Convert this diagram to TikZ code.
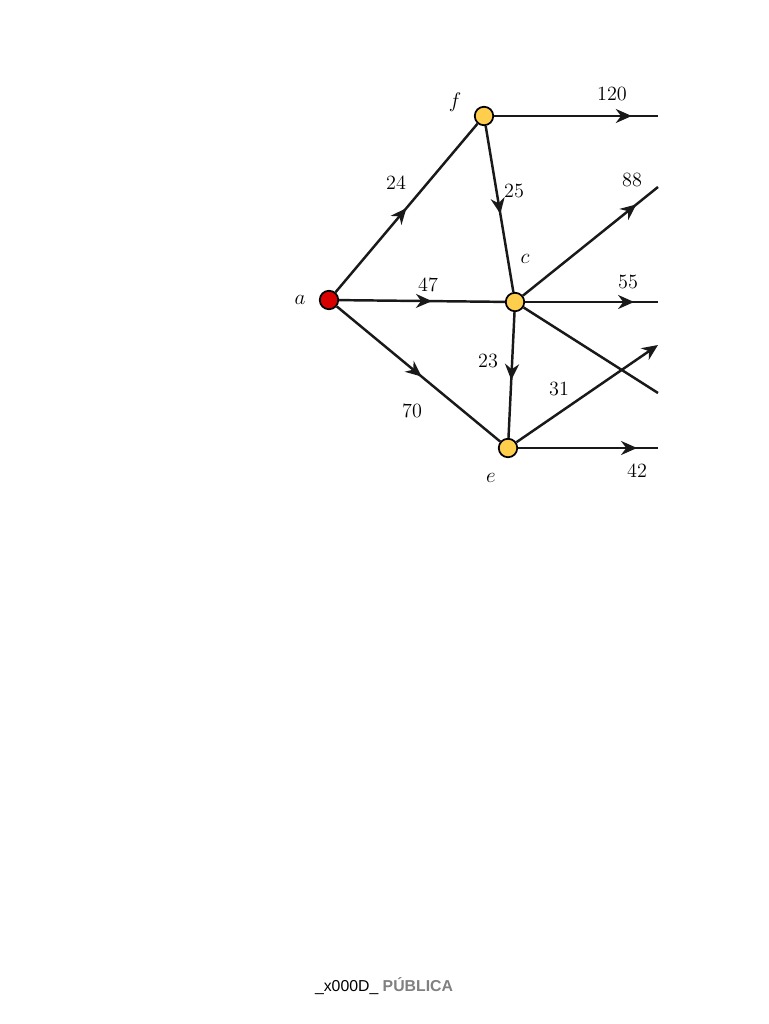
\documentclass[tikz,border=0pt]{standalone}
\usepackage{fontspec}
\setsansfont{Liberation Sans}
\usetikzlibrary{arrows.meta,decorations.markings}

\begin{document}
\begin{tikzpicture}[
  x = 0.02cm, y = -0.02cm,
  font = \fontsize{11.5}{13}\selectfont,
  junction/.style={draw, fill=orange!55!yellow!70, circle, line width=1pt, minimum size=0.37cm, inner sep=0pt},
  source/.style={draw, fill=red!85!black, circle, line width=1pt, minimum size=0.37cm, inner sep=0pt},
  edge/.style={line width=1.4pt, color=black!90},
  midarrow/.style={edge, postaction={decorate}, decoration={markings, mark=at position #1 with {\arrow{Stealth[length=3.2mm, width=2.8mm]}}}},
  endarrow/.style={edge, -{Stealth[length=3.2mm, width=2.8mm]}}
]
    \useasboundingbox (0, 0) rectangle (768, 1024);

    % Nodes
    \node (a) at (329, 300) [source] {};
    \node (f) at (484, 116) [junction] {};
    \node (c) at (515, 302) [junction] {};
    \node (e) at (508, 448) [junction] {};

    % Node names
    \node at (300, 300) {$a$};
    \node at (455, 102) {$f$};
    \node at (525, 259) {$c$};
    \node at (491, 478) {$e$};

    % Free ends
    \coordinate (fout) at (658, 116);
    \coordinate (cup) at (658, 187);
    \coordinate (cout) at (658, 302);
    \coordinate (cdown) at (658, 393);
    \coordinate (eup) at (658, 345);
    \coordinate (eout) at (658, 448);

    % Edges
    \draw[midarrow=0.5] (a) -- (f);
    \draw[midarrow=0.53] (f) -- (c);
    \draw[midarrow=0.56] (a) -- (c);
    \draw[midarrow=0.54] (c) -- (e);
    \draw[midarrow=0.52] (a) -- (e);
    \draw[midarrow=0.84] (f) -- (fout);
    \draw[midarrow=0.84] (c) -- (cup);
    \draw[midarrow=0.82] (c) -- (cout);
    \draw[edge] (c) -- (cdown);
    \draw[endarrow] (e) -- (eup);
    \draw[midarrow=0.85] (e) -- (eout);

    % Weights
    \node at (612, 94) {120};
    \node at (396, 183) {24};
    \node at (514, 191) {25};
    \node at (632, 180) {88};
    \node at (428, 285) {47};
    \node at (628, 282) {55};
    \node at (488, 361) {23};
    \node at (559, 389) {31};
    \node at (412, 411) {70};
    \node at (637, 471) {42};

    % Footer
    \node at (384, 986) {\sffamily\fontsize{9}{11}\selectfont \_x000D\_ \textcolor{black!50}{\bfseries P\'UBLICA}};
\end{tikzpicture}
\end{document}
